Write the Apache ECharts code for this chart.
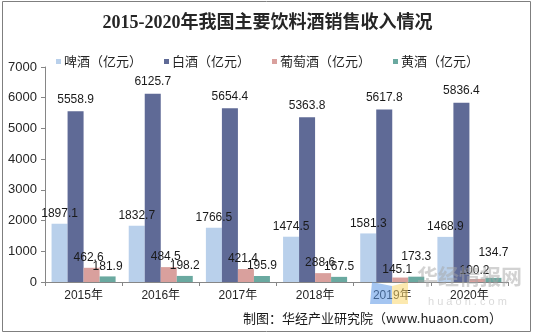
<!DOCTYPE html>
<html>
<head>
<meta charset="utf-8">
<script src="https://cdn.jsdelivr.net/npm/echarts@6/dist/echarts.min.js"></script>
<style>
html,body{margin:0;padding:0;background:#fff;}
#c{width:535px;height:335px;}
</style>
</head>
<body>
<div id="c"></div>
<script>
var categories = ['2015年','2016年','2017年','2018年','2019年','2020年'];
var seriesNames = ['啤酒（亿元）','白酒（亿元）','葡萄酒（亿元）','黄酒（亿元）'];
var beer = [1897.1, 1832.7, 1766.5, 1474.5, 1581.3, 1468.9];
var baijiu = [5558.9, 6125.7, 5654.4, 5363.8, 5617.8, 5836.4];
var wine = [462.6, 484.5, 421.4, 288.6, 145.1, 100.2];
var huangjiu = [181.9, 198.2, 195.9, 167.5, 173.3, 134.7];
var yTicks = [0, 1000, 2000, 3000, 4000, 5000, 6000, 7000];

// label vertical nudges (style only)
var wineLabelDy = [0, 0, 0, 0, 2, 2];
var huangLabelDy = [0, 0, 0, 0, -10, -15];

var colors = ['#b9d0eb', '#5f6a96', '#d9a09d', '#6aa9a0'];
var labelFont = {color:'#1a1a1a', fontSize:12, fontFamily:'Liberation Sans, Arial, sans-serif'};

function items(vals, dys, dx) {
  return vals.map(function(v, i){
    var dy = dys ? dys[i] : 0;
    return {value: v, label: {offset: [dx || 0, dy]}};
  });
}

function mk(name, data, color, extra) {
  var s = {
    name: name, type: 'bar', data: data,
    itemStyle: {color: color},
    barGap: '0%', barCategoryGap: '17%',
    label: Object.assign({show: true, position: 'top', distance: 4}, labelFont),
    emphasis: {disabled: true}, animation: false
  };
  if (extra) Object.assign(s.label, extra);
  return s;
}

var chart = echarts.init(document.getElementById('c'), null, {renderer:'canvas'});
chart.setOption({
  animation: false,
  title: {
    text: '2015-2020年我国主要饮料酒销售收入情况',
    left: 'center', top: 9,
    textStyle: {fontSize: 18, fontWeight: 'bold', color: '#262626',
      fontFamily: 'Liberation Serif, Noto Sans CJK SC, serif'}
  },
  legend: {
    data: seriesNames, top: 50, left: 'center',
    itemWidth: 5, itemHeight: 5, itemGap: 22,
    icon: 'rect',
    textStyle: {fontSize: 13, color: '#262626', padding: [0,0,0,-2],
      fontFamily: 'Noto Sans CJK SC, sans-serif'}
  },
  grid: {left: 45, right: 27, top: 67, bottom: 53, containLabel: false},
  xAxis: {
    type: 'category', data: categories,
    axisLine: {lineStyle: {color: '#868686'}},
    axisTick: {show: true, length: 4, lineStyle: {color: '#868686'}},
    axisLabel: {color: '#262626', fontSize: 12, margin: 8,
      fontFamily: 'Liberation Sans, Noto Sans CJK SC, sans-serif'}
  },
  yAxis: {
    type: 'value', min: yTicks[0], max: yTicks[yTicks.length-1], interval: 1000,
    splitLine: {show: false},
    axisLine: {show: true, lineStyle: {color: '#868686'}},
    axisTick: {show: true, length: 4, lineStyle: {color: '#868686'}},
    axisLabel: {color: '#262626', fontSize: 13, margin: 8,
      formatter: function(v){ return String(v); },
      fontFamily: 'Liberation Sans, Arial, sans-serif'}
  },
  series: [
    mk(seriesNames[0], beer, colors[0]),
    mk(seriesNames[1], baijiu, colors[1], {distance: 6}),
    mk(seriesNames[2], items(wine, wineLabelDy, -3), colors[2]),
    mk(seriesNames[3], items(huangjiu, huangLabelDy, 0), colors[3])
  ],
  graphic: [
    {type:'rect', z: 100, shape:{x:2.5, y:1.5, width:528, height:330},
      style:{fill:'none', stroke:'#7f7f7f', lineWidth:1}},
    {type:'polygon', z: 90, shape:{points:[[372,282],[392,286],[392,304],[370,304]]},
      style:{fill:'rgba(90,150,230,0.55)'}},
    {type:'polygon', z: 90, shape:{points:[[392,286],[408,282],[408,304],[392,304]]},
      style:{fill:'rgba(250,215,110,0.55)'}},
    {type:'text', z: 90, left: 417, top: 266,
      style:{text:'华经情报网', fill:'rgba(165,165,165,0.5)', font:'bold 21px "Noto Sans CJK SC"'}},
    {type:'text', z: 90, left: 428, top: 296,
      style:{text:'h u a o n . c o m', fill:'rgba(170,170,170,0.45)', font:'11px "Liberation Sans"'}},
    {type:'text', z: 95, right: 33, top: 312,
      style:{text:'制图：华经产业研究院（www.huaon.com）', fill:'#1a1a1a',
        font:'13px "Noto Sans CJK SC", sans-serif'}}
  ]
});
</script>
</body>
</html>
